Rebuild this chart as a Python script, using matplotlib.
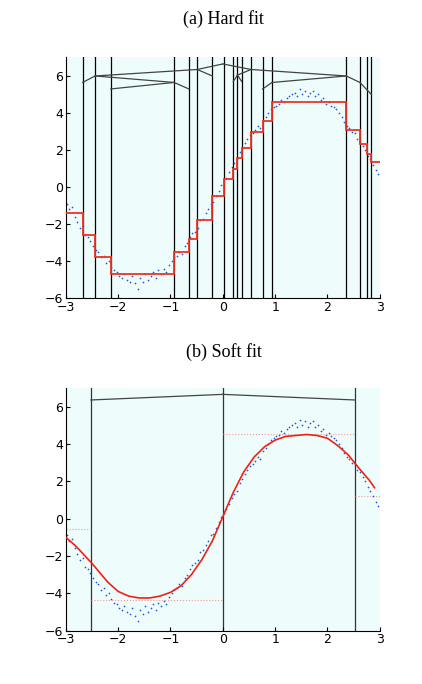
import matplotlib
matplotlib.use("Agg")
import matplotlib.pyplot as plt

xs = [-2.98,-2.93,-2.88,-2.83,-2.78,-2.73,-2.68,-2.63,-2.58,-2.53,-2.48,-2.43,-2.38,-2.33,-2.28,-2.23,-2.18,-2.13,-2.08,-2.03,
      -1.98,-1.93,-1.88,-1.83,-1.78,-1.73,-1.68,-1.63,-1.58,-1.53,-1.48,-1.43,-1.38,-1.33,-1.28,-1.23,-1.18,-1.13,-1.08,-1.03,
      -0.98,-0.93,-0.88,-0.83,-0.78,-0.73,-0.68,-0.63,-0.58,-0.53,-0.48,-0.43,-0.38,-0.33,-0.28,-0.23,-0.18,-0.13,-0.08,-0.03,
      0.02,0.07,0.12,0.17,0.22,0.27,0.32,0.37,0.42,0.47,0.52,0.57,0.62,0.67,0.72,0.77,0.82,0.87,0.92,0.97,
      1.02,1.07,1.12,1.17,1.22,1.27,1.32,1.37,1.42,1.47,1.52,1.57,1.62,1.67,1.72,1.77,1.82,1.87,1.92,1.97,
      2.02,2.07,2.12,2.17,2.22,2.27,2.32,2.37,2.42,2.47,2.52,2.57,2.62,2.67,2.72,2.77,2.82,2.87,2.92,2.97]
ys = [-0.9,-1.2,-1.1,-1.6,-1.9,-2.2,-2.1,-2.6,-2.7,-2.9,-3.2,-3.4,-3.5,-3.8,-3.7,-4.1,-4.0,-4.3,-4.5,-4.6,
      -4.8,-4.9,-4.7,-5.0,-5.1,-4.8,-5.2,-5.5,-4.9,-5.1,-4.7,-5.0,-4.8,-4.6,-4.9,-4.5,-4.7,-4.4,-4.6,-4.2,
      -4.0,-3.8,-3.7,-3.5,-3.6,-3.2,-3.0,-2.7,-2.5,-2.4,-2.2,-1.8,-1.7,-1.4,-1.2,-0.9,-0.8,-0.5,-0.2,0.1,
      0.3,0.5,0.8,1.1,1.3,1.5,1.9,2.1,2.4,2.6,2.8,2.9,3.1,3.3,3.2,3.6,3.8,4.0,4.2,4.3,
      4.4,4.5,4.7,4.6,4.8,4.9,5.0,5.1,4.9,5.3,5.0,5.2,4.9,5.1,5.2,4.9,5.0,4.7,4.8,4.5,
      4.6,4.4,4.3,4.2,4.0,3.8,3.5,3.3,3.2,3.0,2.9,2.6,2.5,2.2,2.0,1.7,1.5,1.2,0.9,0.7]

# hard fit
hard_splits = [-2.68,-2.44,-2.14,-0.93,-0.65,-0.49,-0.20,0.03,0.20,0.28,0.36,0.54,0.76,0.94,2.36,2.62,2.76,2.84]
hard_levels = [-1.4,-2.6,-3.8,-4.7,-3.5,-2.8,-1.8,-0.5,0.45,1.0,1.55,2.1,3.0,3.55,4.6,3.1,2.35,1.8,1.35]
hard_tree = [((-0.49,6.35),(0.0,6.65)),((0.0,6.65),(0.54,6.35)),
             ((-2.44,6.0),(-0.49,6.35)),((-0.49,6.35),(-0.20,6.0)),
             ((-2.44,6.0),(-2.68,5.65)),((-2.44,6.0),(-0.93,5.65)),
             ((-0.93,5.65),(-2.14,5.3)),((-0.93,5.65),(-0.65,5.3)),
             ((0.54,6.35),(2.36,6.0)),((0.54,6.35),(0.28,6.05)),
             ((0.28,6.05),(0.20,5.7)),((0.28,6.05),(0.36,5.7)),
             ((2.36,6.0),(0.94,5.65)),((0.94,5.65),(0.76,5.3)),
             ((2.36,6.0),(2.62,5.65)),((2.62,5.65),(2.84,5.0))]

# soft fit
soft_splits = [-2.52,0.0,2.52]
soft_levels = [-0.55,-4.35,4.55,1.2]
soft_tree = [((-2.52,6.35),(0.0,6.65)),((0.0,6.65),(2.52,6.35))]
curve_x = [-3.0,-2.8,-2.5,-2.2,-2.0,-1.8,-1.6,-1.4,-1.2,-1.0,-0.8,-0.6,-0.4,-0.2,0.0,0.2,0.4,0.6,0.8,1.0,
           1.2,1.4,1.6,1.8,2.0,2.2,2.4,2.6,2.8,2.9]
curve_y = [-1.0,-1.5,-2.4,-3.4,-3.9,-4.15,-4.25,-4.25,-4.15,-3.95,-3.6,-3.0,-2.2,-1.2,0.1,1.4,2.5,3.3,3.85,4.2,
           4.4,4.45,4.5,4.45,4.3,3.9,3.4,2.7,2.05,1.65]

BG = "#effcfc"
fig = plt.figure(figsize=(4.22, 6.84), dpi=100)
ax1 = fig.add_axes([0.156, 0.564, 0.744, 0.352])
ax2 = fig.add_axes([0.156, 0.078, 0.744, 0.355])

def style(ax, title, ty):
    ax.set_facecolor(BG)
    ax.set_xlim(-3, 3); ax.set_ylim(-6, 7)
    ax.set_xticks([-3,-2,-1,0,1,2,3]); ax.set_yticks([-6,-4,-2,0,2,4,6])
    ax.set_xticklabels(['\u22123','\u22122','\u22121','0','1','2','3'])
    ax.set_yticklabels(['\u22126','\u22124','\u22122','0','2','4','6'])
    ax.spines['top'].set_visible(False); ax.spines['right'].set_visible(False)
    ax.tick_params(direction='in', labelsize=9, length=3, pad=2)
    fig.text(0.53, ty, title, ha='center', va='center', fontsize=13, family='Liberation Serif')

style(ax1, "(a) Hard fit", 0.972)
style(ax2, "(b) Soft fit", 0.485)

for ax in (ax1, ax2):
    ax.scatter(xs, ys, s=1.5, color='#2255dd', linewidths=0, zorder=2)

# hard
for s in hard_splits:
    ax1.axvline(s, color='black', lw=0.9, zorder=1)
edges = [-3.0] + hard_splits + [3.0]
ax1.stairs(hard_levels, edges, color='#ee3322', lw=1.3, zorder=3, baseline=None)
for (a, b) in hard_tree:
    ax1.plot([a[0], b[0]], [a[1], b[1]], color='#444444', lw=0.9)

# soft
for s in soft_splits:
    ax2.axvline(s, color='#333333', lw=0.9, zorder=1)
sedges = [-3.0] + soft_splits + [3.0]
for i, lv in enumerate(soft_levels):
    ax2.plot([sedges[i], sedges[i+1]], [lv, lv], color='#ee9999', lw=0.8, ls=':', zorder=1)
for (a, b) in soft_tree:
    ax2.plot([a[0], b[0]], [a[1], b[1]], color='#444444', lw=0.9)
ax2.plot(curve_x, curve_y, color='#ee2211', lw=1.2, zorder=3)

fig.savefig("out.png", dpi=100)
